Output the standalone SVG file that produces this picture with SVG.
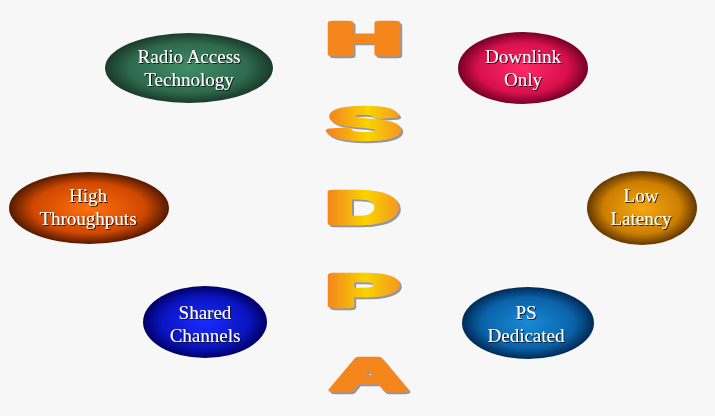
<svg xmlns="http://www.w3.org/2000/svg" width="715" height="416" viewBox="0 0 715 416">
<defs>
<radialGradient id="gGreen" cx="50%" cy="50%" r="50%"><stop offset="0" stop-color="#408c68"/><stop offset="0.7" stop-color="#2f6a4e"/><stop offset="1" stop-color="#1a3a2a"/></radialGradient>
<radialGradient id="gCrimson" cx="50%" cy="50%" r="50%"><stop offset="0" stop-color="#ff2a6a"/><stop offset="0.7" stop-color="#d8104c"/><stop offset="1" stop-color="#740026"/></radialGradient>
<radialGradient id="gRed" cx="50%" cy="50%" r="50%"><stop offset="0" stop-color="#ff7010"/><stop offset="0.7" stop-color="#d04800"/><stop offset="1" stop-color="#541a00"/></radialGradient>
<radialGradient id="gGold" cx="50%" cy="50%" r="50%"><stop offset="0" stop-color="#f5a810"/><stop offset="0.7" stop-color="#cc7e00"/><stop offset="1" stop-color="#643800"/></radialGradient>
<radialGradient id="gBlue" cx="50%" cy="50%" r="50%"><stop offset="0" stop-color="#1a2cff"/><stop offset="0.7" stop-color="#0a14c0"/><stop offset="1" stop-color="#000066"/></radialGradient>
<radialGradient id="gTeal" cx="50%" cy="50%" r="50%"><stop offset="0" stop-color="#1a8ad8"/><stop offset="0.7" stop-color="#0a62a8"/><stop offset="1" stop-color="#002a56"/></radialGradient>
<linearGradient id="gLetter" x1="0" y1="0" x2="1" y2="0"><stop offset="0" stop-color="#f5821f"/><stop offset="0.55" stop-color="#f8d400"/><stop offset="1" stop-color="#f59a20"/></linearGradient>
<filter id="fTxt" x="-10%" y="-20%" width="120%" height="150%"><feDropShadow dx="1" dy="1" stdDeviation="0.4" flood-color="#111111" flood-opacity="0.9"/></filter>
<filter id="fBig" x="-10%" y="-10%" width="125%" height="130%"><feDropShadow dx="2" dy="2" stdDeviation="0.6" flood-color="#8a8a8a" flood-opacity="0.9"/></filter>
</defs>
<style>
.lbl{font-family:"Liberation Serif","Times New Roman",serif;font-size:19px;fill:#ffffff;text-anchor:middle;filter:url(#fTxt)}
.big{font-family:"Liberation Sans",Arial,sans-serif;font-weight:bold;font-size:45px;stroke-width:4.5;stroke-linejoin:round;filter:url(#fBig)}
.solid{fill:#f5861f;stroke:#f5861f}
.grad{fill:url(#gLetter);stroke:url(#gLetter)}
</style>
<rect width="715" height="416" fill="#f7f7f7"/>

<g id="title">
<text class="big solid" x="326" y="54" textLength="76" lengthAdjust="spacingAndGlyphs">H</text>
<text class="big grad" x="328" y="139" textLength="72" lengthAdjust="spacingAndGlyphs">S</text>
<text class="big grad" x="326" y="223" textLength="72" lengthAdjust="spacingAndGlyphs">D</text>
<text class="big grad" x="326" y="306" textLength="72" lengthAdjust="spacingAndGlyphs">P</text>
<text class="big solid" x="331" y="390" textLength="75" lengthAdjust="spacingAndGlyphs">A</text>
</g>

<g id="node-rat">
<ellipse cx="189" cy="68" rx="84" ry="35" fill="url(#gGreen)"/>
<text class="lbl" x="189" y="63">Radio Access</text>
<text class="lbl" x="189" y="86">Technology</text>
</g>

<g id="node-downlink">
<ellipse cx="523" cy="68" rx="65" ry="36" fill="url(#gCrimson)"/>
<text class="lbl" x="523" y="63">Downlink</text>
<text class="lbl" x="523" y="86">Only</text>
</g>

<g id="node-throughput">
<ellipse cx="89" cy="208" rx="80" ry="36" fill="url(#gRed)"/>
<text class="lbl" x="88" y="202">High</text>
<text class="lbl" x="88" y="225">Throughputs</text>
</g>

<g id="node-latency">
<ellipse cx="642" cy="208" rx="55" ry="37" fill="url(#gGold)"/>
<text class="lbl" x="641" y="202">Low</text>
<text class="lbl" x="641" y="225">Latency</text>
</g>

<g id="node-shared">
<ellipse cx="205" cy="322" rx="62" ry="36" fill="url(#gBlue)"/>
<text class="lbl" x="205" y="319">Shared</text>
<text class="lbl" x="205" y="342">Channels</text>
</g>

<g id="node-ps">
<ellipse cx="528" cy="323" rx="66" ry="36" fill="url(#gTeal)"/>
<text class="lbl" x="526" y="319">PS</text>
<text class="lbl" x="526" y="342">Dedicated</text>
</g>
</svg>
